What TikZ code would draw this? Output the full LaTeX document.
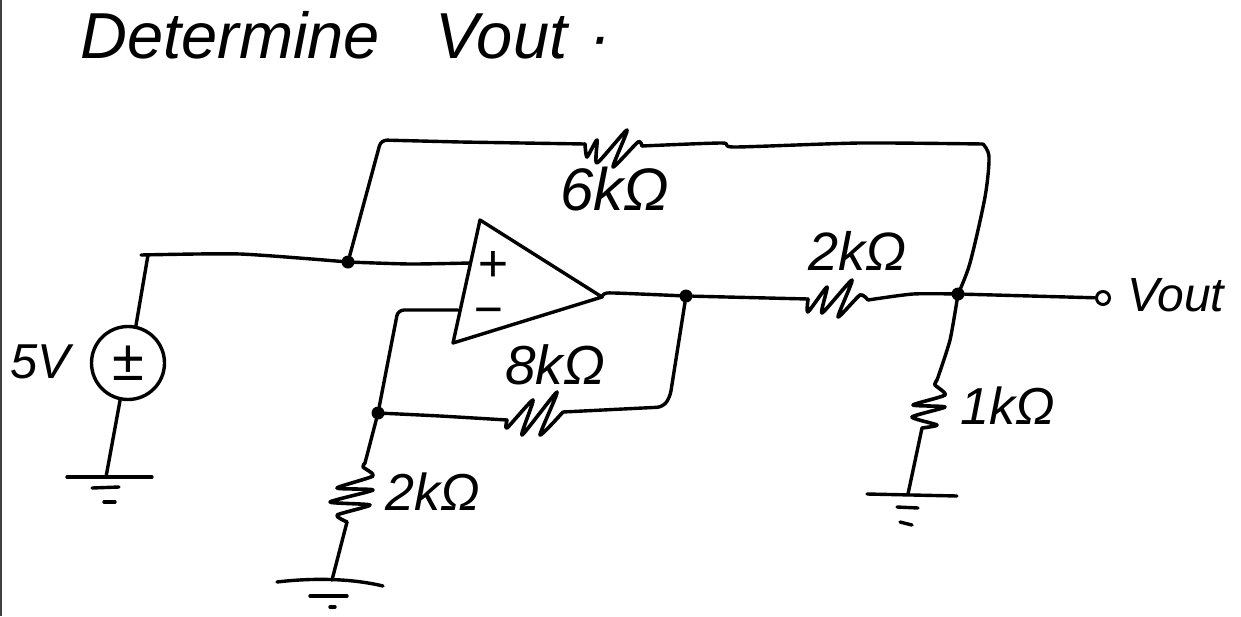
\documentclass[tikz,border=0pt]{standalone}
\usepackage{fontspec}
\setmainfont{Liberation Sans}
\newcommand{\hw}[1]{\fontsize{#1}{#1}\selectfont\itshape}
\tikzset{
  x=1pt,y=-1pt,
  wire/.style={draw=black,line width=3.4pt,line cap=round,line join=round},
  zigwire/.style={wire,line width=3.6pt},
  dotnode/.style={circle,fill=black,inner sep=0pt,minimum size=13pt},
  lab/.style={anchor=base west,inner sep=0pt,text=black},
  srcnode/.style={circle,draw=black,line width=3.4pt,minimum size=73pt,inner sep=0pt},
  endnode/.style={circle,draw=black,line width=3pt,fill=white,minimum size=13pt,inner sep=0pt}
}
\begin{document}
\begin{tikzpicture}
\useasboundingbox (0,0) rectangle (1241,616);
\fill[white] (0,0) rectangle (1241,616);
\draw[line width=1.6pt,black!75] (0.8,0) -- (0.8,616);

% title
\node[lab] (title) at (80,58) {\hw{65}Determine\hspace{56pt}Vout\hspace{22pt}·};

% named points
\node[dotnode] (j1) at (348,262) {};
\node[dotnode] (j2) at (686,296) {};
\node[dotnode] (j3) at (958,294) {};
\node[dotnode] (j4) at (378,413) {};
\node[srcnode] (src) at (128,363) {\hw{58}±};
\node[endnode] (vo) at (1103,298) {};
\coordinate (oaT) at (480,220);
\coordinate (oaB) at (453,343);
\coordinate (oaO) at (602,297);
\coordinate (oaP) at (470,263);
\coordinate (oaN) at (458,310);
\coordinate (g1) at (106,477);
\coordinate (g2) at (332,580);
\coordinate (g3) at (908,494);

% op-amp
\draw[wire] (oaT) -- (oaO) -- (oaB) -- cycle;
\node[lab] (plusin) at (477,281) {\hw{52}+};
\node[lab] (minusin) at (473,326) {\hw{50}−};

% source
\draw[wire] (src.78) -- (148,255);
\draw[wire] plot[smooth,tension=.4] coordinates {(141,255) (240,254) (j1)};
\draw[wire] (src.-102) -- (g1);

% input wire and 6k feedback
\draw[wire] plot[smooth,tension=.4] coordinates {(j1) (410,264) (oaP)};
\draw[wire,rounded corners=6pt] (j1) -- (381,140) -- (460,142) -- (585,144);
\draw[zigwire] plot[smooth,tension=.35] coordinates {(585,144) (587,157) (597,140) (597,163) (627,130) (613,167) (638,142) (642,146)};
\draw[wire] plot[smooth,tension=.4] coordinates {(642,146) (722,143) (735,147) (860,143) (983,144)};
\draw[wire] plot[smooth,tension=.5] coordinates {(983,144) (989,157) (985,197) (970,263) (j3)};

% negative input
\draw[wire,rounded corners=6pt] (oaN) -- (398,310) -- (j4);

% output and 8k feedback
\draw[wire] plot[smooth,tension=.4] coordinates {(oaO) (607,293) (640,294) (j2)};
\draw[wire] (j2) -- (808,299);
\draw[zigwire] plot[smooth,tension=.35] coordinates {(808,299) (808,312) (827,287) (822,313) (852,280) (838,317) (860,295) (868,300)};
\draw[wire] plot[smooth,tension=.4] coordinates {(868,300) (913,294) (j3)};
\draw[wire] (j3) -- (vo);
\draw[wire] plot[smooth,tension=.4] coordinates {(j4) (440,416) (507,420)};
\draw[zigwire] plot[smooth,tension=.35] coordinates {(507,420) (507,428) (533,400) (522,435) (557,392) (540,435) (563,412)};
\draw[wire,rounded corners=6pt] (563,412) -- (663,407) -- (670,397) -- (j2);

% 1k to ground
\draw[wire] plot[smooth,tension=.4] coordinates {(j3) (950,340) (937,380)};
\draw[zigwire] plot[smooth,tension=.35] coordinates {(937,380) (935,385) (945,395) (913,405) (945,407) (912,417) (937,425) (922,428)};
\draw[wire] (922,428) -- (g3);

% 2k to ground
\draw[wire] (j4) -- (365,463);
\draw[zigwire] plot[smooth,tension=.35] coordinates {(365,463) (363,467) (373,476) (337,488) (373,490) (330,502) (370,505) (337,515) (347,522)};
\draw[wire] (347,522) -- (g2);

% grounds
\draw[wire] (67,477) -- (152,477);
\draw[wire] (92,488) -- (119,487);
\draw[wire] (104,502) -- (115,502);
\draw[wire] (277,582) .. controls (310,578) and (350,578) .. (383,586);
\draw[wire] (310,596) -- (347,596);
\draw[wire] (330,607) -- (335,607);
\draw[wire] (867,494) -- (957,496);
\draw[wire] (897,507) -- (918,508);
\draw[wire] (900,522) -- (912,525);

% labels
\node[lab] (l6k) at (560,210) {\hw{60}6kΩ};
\node[lab] (l8k) at (505,384) {\hw{55}8kΩ};
\node[lab] (l2ka) at (808,270) {\hw{54}2kΩ};
\node[lab] (l1k) at (960,424) {\hw{52}1kΩ};
\node[lab] (l2kb) at (385,510) {\hw{52}2kΩ};
\node[lab] (l5v) at (10,378) {\hw{49}5V};
\node[lab] (lvo) at (1127,311) {\hw{48}Vout};
\end{tikzpicture}
\end{document}
